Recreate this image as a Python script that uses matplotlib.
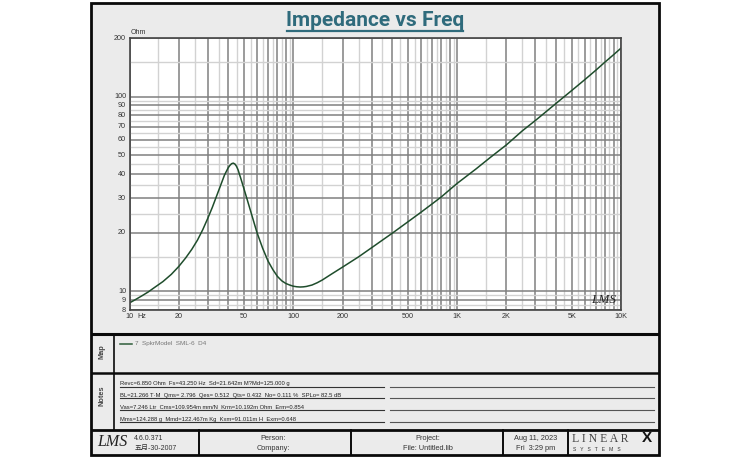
import matplotlib
matplotlib.use("Agg")
import matplotlib.pyplot as plt
from matplotlib.patches import Rectangle
from matplotlib.ticker import FixedLocator, NullFormatter

plt.rcParams['font.family'] = ['Liberation Sans', 'Noto Sans CJK SC', 'DejaVu Sans']

# values
freq = [10, 11, 12, 13, 14, 16, 18, 20, 22, 24, 26, 28, 30, 32, 34, 36, 38, 40, 41, 42, 43, 44, 45, 46, 48,
        50, 52, 55, 58, 60, 65, 70, 75, 80, 85, 90, 95, 100, 105, 110, 115, 120, 130, 140, 150, 170, 200, 250,
        300, 350, 400, 500, 600, 700, 800, 900, 1000, 1300, 1600, 2000, 2500, 3000, 4000, 5000, 6000, 7000,
        8000, 9000, 10000]
imped = [8.7, 9.1, 9.5, 9.9, 10.35, 11.2, 12.2, 13.4, 14.8, 16.4, 18.3, 20.7, 23.6, 26.9, 30.8, 35.0, 39.5,
         43.0, 44.3, 45.2, 45.5, 45.0, 43.8, 42.0, 37.5, 33.5, 30.0, 25.6, 22.0, 20.0, 16.6, 14.3, 12.9, 11.9,
         11.3, 10.95, 10.75, 10.6, 10.53, 10.5, 10.52, 10.57, 10.75, 11.05, 11.4, 12.2, 13.3, 15.0, 16.7, 18.3,
         19.8, 22.7, 25.4, 28.0, 30.5, 33.2, 35.8, 42.4, 48.8, 56.5, 66.7, 75.3, 92, 107.4, 122, 136.3, 150.6,
         164, 177.4]

x_major = [10, 20, 30, 40, 50, 60, 70, 80, 90, 100, 200, 300, 400, 500, 600, 700, 800, 900, 1000,
           2000, 3000, 4000, 5000, 6000, 7000, 8000, 9000, 10000]
x_minor = [15, 25, 35, 45, 55, 65, 75, 85, 95, 150, 250, 350, 450, 550, 650, 750, 850, 950,
           1500, 2500, 3500, 4500, 5500, 6500, 7500, 8500, 9500]
y_major = [8, 9, 10, 20, 30, 40, 50, 60, 70, 80, 90, 100, 200]
y_minor = [8.5, 9.5, 15, 25, 35, 45, 55, 65, 75, 85, 95, 150]

x_tick_vals = [10, 20, 50, 100, 200, 500, 1000, 2000, 5000, 10000]
x_tick_labels = ["10", "20", "50", "100", "200", "500", "1K", "2K", "5K", "10K"]
y_tick_vals = [8, 9, 10, 20, 30, 40, 50, 60, 70, 80, 90, 100, 200]

notes = [
    "Revc=6.850 Ohm  Fs=43.250 Hz  Sd=21.642m M?Md=125.000 g",
    "BL=21.266 T·M  Qms= 2.796  Qes= 0.512  Qts= 0.432  No= 0.111 %  SPLo= 82.5 dB",
    "Vas=7.246 Ltr  Cms=109.954m mm/N  Krm=10.192m Ohm  Erm=0.854",
    "Mms=124.288 g  Mmd=122.467m Kg  Kxm=91.011m H  Exm=0.648",
]
note_rows = [386.7, 398.3, 410, 421.7]

W, H = 750, 457
fig = plt.figure(figsize=(7.5, 4.57), dpi=100, facecolor="white")

# page furniture, in pixels
bg = fig.add_axes([0, 0, 1, 1])
bg.set_xlim(0, W)
bg.set_ylim(H, 0)
bg.axis("off")
bg.add_patch(Rectangle((91, 3), 568, 452, fc="#ebebeb", ec="#0a0a0a", lw=2))
for y, lw in [(334, 2.2), (372.5, 1.8), (429.5, 2)]:
    bg.plot([91, 659], [y, y], color="#0a0a0a", lw=lw, solid_capstyle="butt")
bg.plot([114, 114], [334, 429.5], color="#0a0a0a", lw=1.2)
for x in [199, 351, 503, 568]:
    bg.plot([x, x], [429.5, 455], color="#0a0a0a", lw=1.4)

bg.text(375, 20.5, "Impedance vs Freq", fontsize=15, fontweight="bold", family="Roboto", color="#2f6b7c",
        ha="center", va="center")
bg.plot([287, 463], [31, 31], color="#2f6b7c", lw=1.6)
bg.text(131, 32, "Ohm", fontsize=5, color="#333333", va="center")
bg.text(102, 352, "Map", fontsize=5.3, fontweight="bold", color="#444444", rotation=90, ha="center", va="center")
bg.text(102, 396, "Notes", fontsize=5.3, fontweight="bold", color="#444444", rotation=90, ha="center", va="center")

bg.plot([120, 132], [344, 344], color="#2f5d3a", lw=1.1)
bg.text(135, 343.5, "7  SpkrModel  SML-6  D4", fontsize=4.6, color="#777777", va="center")

for row, note in zip(note_rows, notes):
    bg.text(120, row - 2.7, note, fontsize=4.2, color="#222222", va="center")
    bg.plot([120, 384], [row, row], color="#333333", lw=0.8)
    bg.plot([390, 654], [row, row], color="#555555", lw=0.8)

# footer
bg.text(112, 442, "LMS", fontsize=11.5, style="italic", family="Liberation Serif", color="#222222",
        ha="center", va="center")
bg.text(134, 438, "4.6.0.371", fontsize=5, color="#333333", va="center")
bg.text(135, 448, "五月-30-2007", fontsize=5, color="#333333", va="center")
bg.text(273, 438, "Person:", fontsize=5.3, color="#333333", ha="center", va="center")
bg.text(273, 448, "Company:", fontsize=5.3, color="#333333", ha="center", va="center")
bg.text(428, 438, "Project:", fontsize=5.3, color="#333333", ha="center", va="center")
bg.text(428, 448, "File: Untitled.lib", fontsize=5.3, color="#333333", ha="center", va="center")
bg.text(536, 438, "Aug 11, 2023", fontsize=5.3, color="#333333", ha="center", va="center")
bg.text(536, 448, "Fri  3:29 pm", fontsize=5.3, color="#333333", ha="center", va="center")
bg.text(572, 439, "L I N E A R", fontsize=8.5, family="Liberation Serif", color="#444444", va="center")
bg.text(642, 438.5, "X", fontsize=11, fontweight="bold", color="#111111", va="center")
bg.text(573, 449.5, "S   Y   S   T   E   M   S", fontsize=3.6, color="#333333", va="center")

# impedance plot
left, right, top, bottom = 129.5, 621, 38, 310
ax = fig.add_axes([left / W, 1 - bottom / H, (right - left) / W, (bottom - top) / H], zorder=2)
ax.set_xscale("log")
ax.set_yscale("log")
ax.set_xlim(10, 10000)
ax.set_ylim(8, 200)
ax.set_facecolor("white")

ax.xaxis.set_major_locator(FixedLocator(x_major))
ax.xaxis.set_minor_locator(FixedLocator(x_minor))
ax.yaxis.set_major_locator(FixedLocator(y_major))
ax.yaxis.set_minor_locator(FixedLocator(y_minor))
ax.xaxis.set_major_formatter(NullFormatter())
ax.xaxis.set_minor_formatter(NullFormatter())
ax.yaxis.set_major_formatter(NullFormatter())
ax.yaxis.set_minor_formatter(NullFormatter())
ax.grid(which="minor", color="#d2d2d2", lw=1.0)
ax.grid(which="major", color="#808080", lw=1.1)
ax.set_axisbelow(True)
ax.tick_params(which="both", length=0)

for spine in ax.spines.values():
    spine.set_color("#444444")
    spine.set_linewidth(1.2)

ax.plot(freq, imped, color="#1f4d2c", lw=1.1, snap=False)

for val, lab in zip(x_tick_vals, x_tick_labels):
    ax.annotate(lab, (val, 8), xytext=(0, -4.8), textcoords="offset points", fontsize=5.2,
                color="#333333", ha="center", va="center", annotation_clip=False)
ax.annotate("Hz", (10, 8), xytext=(6, -4.8), textcoords="offset points", fontsize=5.2,
            color="#333333", va="center", annotation_clip=False)
for val in y_tick_vals:
    ax.annotate(str(val), (10, val), xytext=(-2.5, 0), textcoords="offset points", fontsize=5.2,
                color="#333333", ha="right", va="center", annotation_clip=False)

ax.text(604, 300, "LMS", fontsize=9.5, style="italic", family="Liberation Serif", color="#222222",
        ha="center", va="center", transform=bg.transData, zorder=5)

fig.savefig("out.png", dpi=100)
